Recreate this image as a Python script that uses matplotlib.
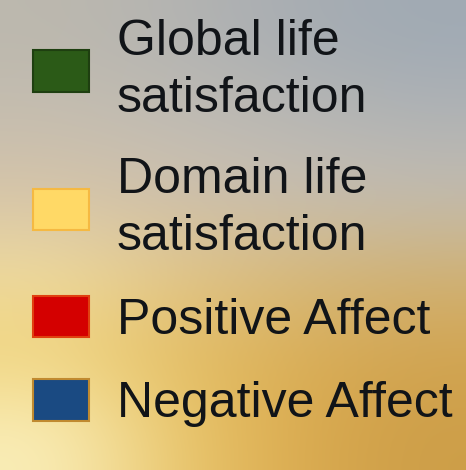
import numpy as np
import matplotlib
matplotlib.use("Agg")
import matplotlib.pyplot as plt
from matplotlib.patches import Patch

labels = ["Global life\nsatisfaction", "Domain life\nsatisfaction",
          "Positive Affect", "Negative Affect"]
colors = ["#2b5a17", "#ffd966", "#d40000", "#1a4a82"]
edges = ["#1e3f10", "#f5b942", "#e04010", "#c08a30"]

# background (sky gradient) anchor colours, rows top->bottom, cols left->right
bg = np.array([
    [[188, 184, 174], [180, 180, 178], [168, 173, 178], [160, 170, 180]],
    [[198, 190, 176], [192, 188, 180], [185, 184, 180], [176, 179, 181]],
    [[214, 196, 168], [206, 192, 172], [200, 190, 176], [195, 188, 176]],
    [[240, 220, 160], [226, 198, 138], [215, 186, 125], [208, 178, 118]],
    [[240, 212, 125], [228, 190, 100], [218, 175, 88], [210, 165, 82]],
    [[250, 238, 185], [234, 200, 110], [220, 172, 80], [205, 158, 72]],
]) / 255.0

fig = plt.figure(figsize=(4.66, 4.70), dpi=100)
ax = fig.add_axes([0, 0, 1, 1])
ax.imshow(bg, aspect="auto", interpolation="bicubic", extent=[0, 1, 0, 1])
ax.set_xlim(0, 1)
ax.set_ylim(0, 1)
ax.axis("off")

handles = [Patch(facecolor=c, edgecolor=e, linewidth=1.5) for c, e in zip(colors, edges)]
leg = fig.legend(handles, labels, loc="upper left",
                 bbox_to_anchor=(33 / 466, 1 - 19 / 470),
                 frameon=False, borderpad=0, borderaxespad=0,
                 prop={"family": "Liberation Sans", "size": 36},
                 handlelength=1.12, handleheight=0.9,
                 handletextpad=0.56, labelspacing=0.71)
for t in leg.get_texts():
    t.set_color("#111418")
    t.set_linespacing(1.3)

fig.savefig("out.png", dpi=100)
